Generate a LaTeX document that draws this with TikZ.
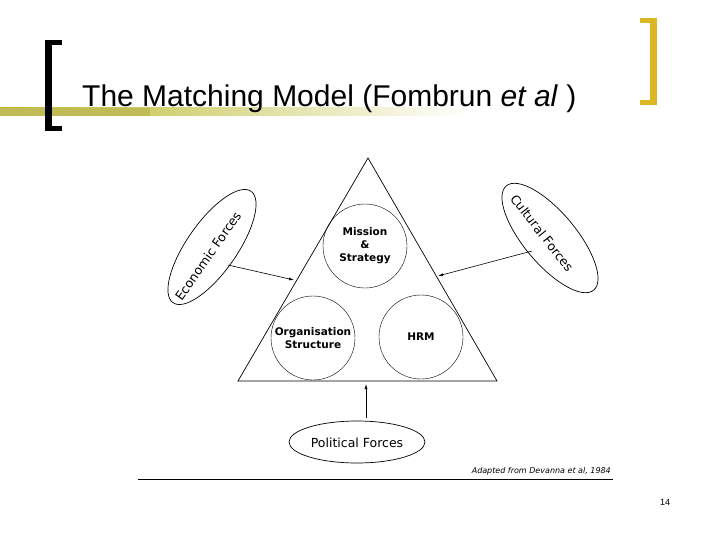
\documentclass[tikz,border=0pt]{standalone}
\usepackage{fontspec}
\setmainfont{Liberation Sans}
\newfontfamily\dv{DejaVu Sans}
\usetikzlibrary{arrows.meta}
\begin{document}
\begin{tikzpicture}[x=1pt,y=-1pt,
  circ/.style={draw,circle,minimum size=84pt,inner sep=0pt,font=\dv\bfseries\fontsize{10.5}{13}\selectfont,align=center},
  force/.style={font=\dv\fontsize{12.5}{14}\selectfont},
  arr/.style={-{Latex[length=5pt,width=3pt]},line width=0.6pt}]
\useasboundingbox (0,0) rectangle (720,540);
\fill[white] (0,0) rectangle (720,540);
% header bar
\shade[left color=olive!55!white,right color=white] (0,108) rectangle (470,116);
\fill[olive!55!white] (0,108) rectangle (150,116);
% brackets
\fill[black] (45,40) rectangle (52,131);
\fill[black] (45,40) rectangle (62,45);
\fill[black] (45,126) rectangle (62,131);
\fill[yellow!65!orange!85!black] (650,18) rectangle (657,105);
\fill[yellow!65!orange!85!black] (640,18) rectangle (657,23);
\fill[yellow!65!orange!85!black] (640,100) rectangle (657,105);
\node[anchor=base west,font=\fontsize{30}{34}\selectfont,inner sep=0pt] (title) at (82,107) {The Matching Model (Fombrun \textit{et al} )};
% triangle
\coordinate (apex) at (368,158);
\coordinate (bl) at (238,381);
\coordinate (br) at (497,381);
\draw[line width=0.7pt] (apex) -- (bl) -- (br) -- cycle;
\node[circ] (mission) at (365,246) {Mission\\\&\\Strategy};
\node[circ] (org) at (313,338) {Organisation\\Structure};
\node[circ] (hrm) at (421,337) {HRM};
% forces
\draw[line width=0.7pt,rotate around={55:(212,247)}] (212,247) ellipse (68 and 25);
\node[force,rotate=55] (eco) at (208,256) {Economic Forces};
\draw[line width=0.7pt,rotate around={-50:(550,238)}] (550,238) ellipse (68 and 26);
\node[force,rotate=-52] (cul) at (542,233) {Cultural Forces};
\draw[line width=0.7pt] (357,442) ellipse (68 and 21);
\node[force] (pol) at (357,443) {Political Forces};
\coordinate (e1) at (228,265); \coordinate (e2) at (294,280);
\coordinate (c1) at (532,251); \coordinate (c2) at (438,276);
\coordinate (p1) at (366,418); \coordinate (p2) at (366,384);
\draw[arr] (e1) -- (e2);
\draw[arr] (c1) -- (c2);
\draw[arr] (p1) -- (p2);
% footer
\draw[line width=0.8pt] (138,479) -- (613,479);
\node[anchor=base east,font=\dv\itshape\fontsize{8}{9}\selectfont,inner sep=0pt] (src) at (611,473) {Adapted from Devanna et al, 1984};
\node[font=\fontsize{9}{10}\selectfont] (pg) at (665,502) {14};
\end{tikzpicture}
\end{document}
